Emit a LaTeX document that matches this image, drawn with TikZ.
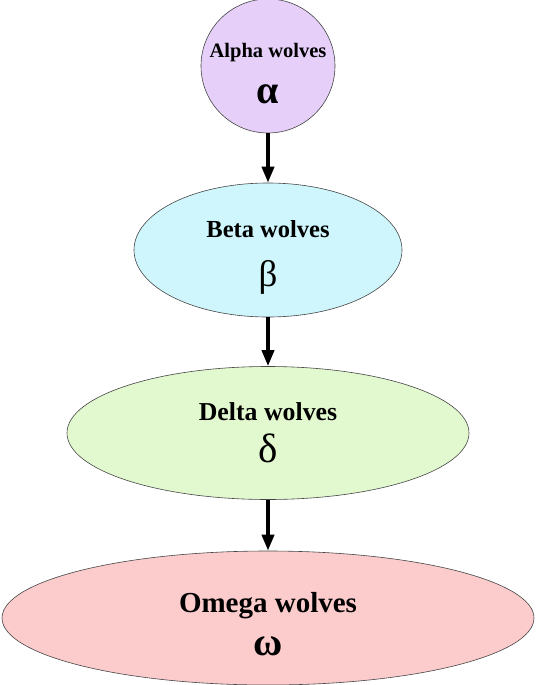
\documentclass[tikz,border=0pt]{standalone}
\usepackage{fontspec}
\setmainfont{Liberation Serif}
\usetikzlibrary{shapes.geometric,arrows.meta}
\definecolor{alphafill}{RGB}{230,208,250}
\definecolor{betafill}{RGB}{206,246,252}
\definecolor{deltafill}{RGB}{226,248,206}
\definecolor{omegafill}{RGB}{252,204,204}
\definecolor{edge}{RGB}{70,70,70}
\tikzset{
  blob/.style={ellipse, draw=edge, line width=0.6pt, inner sep=0pt},
  lbl/.style={anchor=base, inner sep=0pt, font=\bfseries},
  sym/.style={anchor=base, inner sep=0pt},
  arr/.style={line width=3.6pt, -{Triangle[length=16pt,width=12pt]}, black}
}
\begin{document}
\begin{tikzpicture}[x=1pt,y=-1pt]
\useasboundingbox (0,0) rectangle (536,685);
\node[circle, draw=edge, line width=0.6pt, fill=alphafill, minimum size=134pt, inner sep=0pt] (alpha) at (268,66) {};
\node[blob, fill=betafill, minimum width=268pt, minimum height=134pt] (beta) at (268,250) {};
\node[blob, fill=deltafill, minimum width=402pt, minimum height=133pt] (delta) at (268,433) {};
\node[blob, fill=omegafill, minimum width=532pt, minimum height=134pt] (omega) at (268,618) {};
\node[lbl, font=\bfseries\fontsize{20.5}{24}\selectfont] (ta) at (268,58) {Alpha wolves};
\node[sym, font=\bfseries\fontsize{40}{44}\selectfont] (sa) at (268,103) {α};
\node[lbl, font=\bfseries\fontsize{24.5}{28}\selectfont] (tb) at (268,237) {Beta wolves};
\node[sym, font=\fontsize{37}{40}\selectfont] (sb) at (268,286) {β};
\node[lbl, font=\bfseries\fontsize{25.8}{29}\selectfont] (td) at (268,420) {Delta wolves};
\node[sym, font=\fontsize{41}{44}\selectfont] (sd) at (268,462) {δ};
\node[lbl, font=\bfseries\fontsize{29}{32}\selectfont] (to) at (268,612) {Omega wolves};
\node[sym, font=\bfseries\fontsize{40}{44}\selectfont] (so) at (268,655) {ω};
\draw[arr] (alpha) -- (beta);
\draw[arr] (beta) -- (delta);
\draw[arr] (delta) -- (omega);
\end{tikzpicture}
\end{document}
